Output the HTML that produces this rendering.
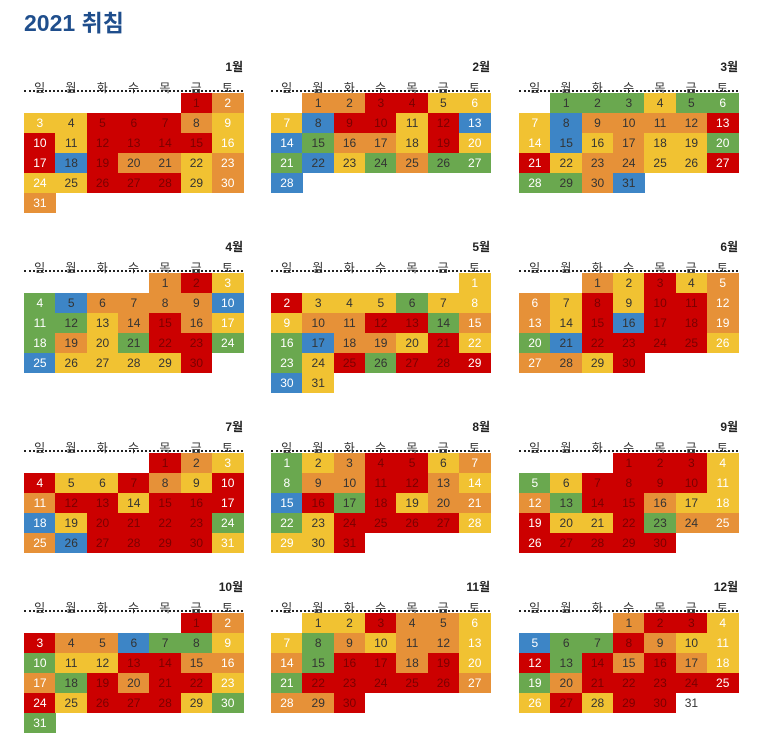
<!DOCTYPE html>
<html><head><meta charset="utf-8">
<style>
body{margin:0;background:#fff;width:763px;height:749px;overflow:hidden;position:relative;font-family:"Liberation Sans","Noto Sans CJK KR",sans-serif}
.t{position:absolute;left:24px;top:4px;font-size:23px;font-weight:bold;color:#1f4e8c}
.m{position:absolute;font-size:12px;font-weight:bold;color:#222;text-align:right}
.w{position:absolute;font-size:12px;color:#333;text-align:center}
.d{position:absolute;border-top:2px dotted #222;height:0}
.c{position:absolute;font-size:12px;text-align:center;line-height:20px}
</style></head><body>
<div class="t">2021 취침</div>
<div id="cal"></div>
<script>
const year = 2021;
const monthLabels = ["1월","2월","3월","4월","5월","6월","7월","8월","9월","10월","11월","12월"];
const weekdayLabels = ["일","월","화","수","목","금","토"];
const jan = "ROYYRRROYRYRRRRYRBROOYOYYRRRYOO";
const feb = "OORRYYYBRRYRBBGOOYRYGBYGOGGB";
const mar = "GGGYGGYBOOOORYBYOYYGRYOOYYRGGOB";
const apr = "ORYGBOOOOBGGYOROYGOYGRRGBYYYYR";
const may = "YRYYYGYYYOORRGOGBOOYRYGYRGRRRBY";
const jun = "OYRYOOYRYRROOYRBRROGBRRRRYOOYR";
const jul = "ROYRYYROYRORRYRRRBYRRRRGOBRRRRY";
const aug = "GYORRYOGOORROYBRGRYOOGYRRRRYYYR";
const sep = "RRRYGYRRRRYOGRROYYRYYRGOORRRRR";
const oct = "ROROOBGGYGYYRROOOGRORRYRYRRRYGG";
const nov = "YYROOYYGOYOOYOGRRORYGRRRRROOOR";
const dec = "ORRYBGGROYYRGROROYGORRRRRYRYRRW";
const months = [jan,feb,mar,apr,may,jun,jul,aug,sep,oct,nov,dec];
const colors = {R:"#cc0000",O:"#e69138",Y:"#f1c232",G:"#6aa84f",B:"#3d85c6",W:"#ffffff"};
const blockX = [24,271,519], blockY = [93,273,453,613], cw = 31.3, ch = 20;
const cal = document.getElementById('cal');
function add(cls, x, y, w, txt){
  const e = document.createElement('div');
  e.className = cls; e.style.left = x+'px'; e.style.top = y+'px'; e.style.width = w+'px';
  if (txt!==undefined) e.textContent = txt;
  cal.appendChild(e); return e;
}
months.forEach((codes, mi) => {
  const bx = blockX[mi%3], by = blockY[Math.floor(mi/3)];
  const ml = add('m', bx, by-35, cw*7, monthLabels[mi]);
  
  
  weekdayLabels.forEach((w, i) => {
    const wl = add('w', bx+i*cw, by-14, cw, w);
    
    
  });
  const dl = add('d', bx, by-3, cw*7);
  
  
  const start = new Date(year, mi, 1).getDay();
  for (let d = 0; d < codes.length; d++) {
    const idx = start + d, col = idx % 7, row = Math.floor(idx / 7);
    const k = codes[d];
    const c = add('c', bx+col*cw, by+row*ch, cw+0.5, String(d+1));
    c.style.height = ch+'px';
    c.style.background = colors[k];
    const weekend = col===0 || col===6;
    c.style.color = k==='W' ? '#333' : (weekend ? '#fff' : (k==='R' ? '#7a0000' : '#333'));
    
    
  }
});
</script>
</body></html>
